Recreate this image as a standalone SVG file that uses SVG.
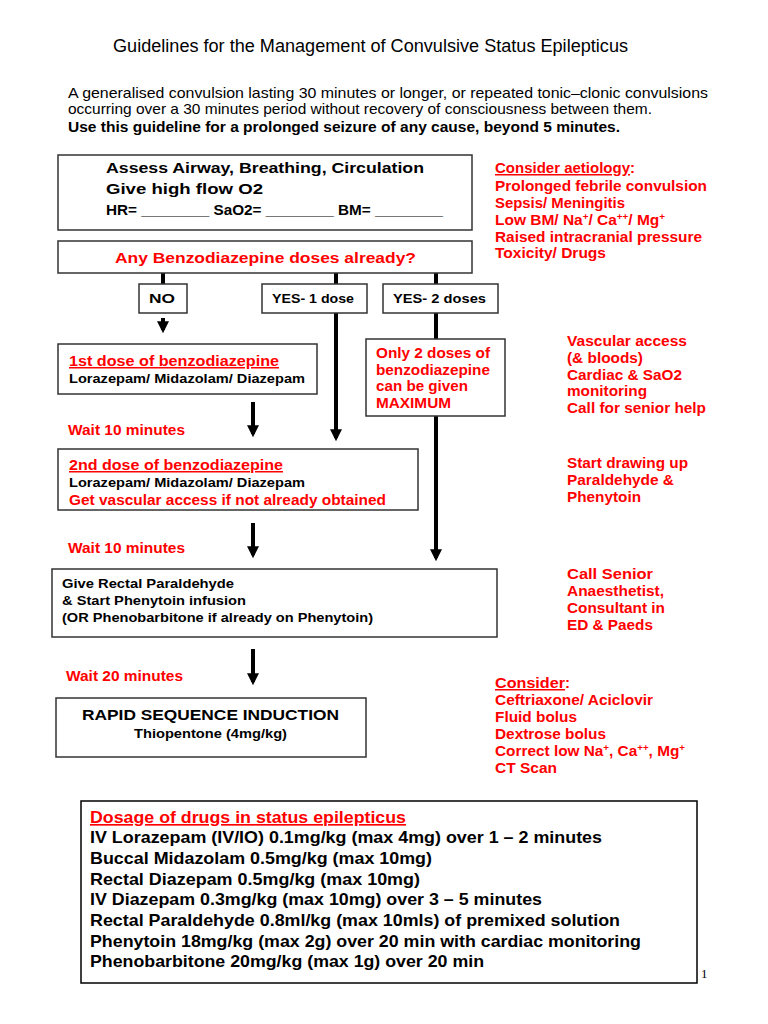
<svg xmlns="http://www.w3.org/2000/svg" width="768" height="1024" viewBox="0 0 768 1024">
<style>
text{font-family:"Liberation Sans",Arial,sans-serif;}
.b{font-weight:bold;}
.r{fill:#ff0000;}
.k{fill:#000;}
.f14{font-size:15px;}
.f12{font-size:13px;}
.f15{font-size:16.5px;}
.u{text-decoration:underline;}
.box{fill:#fff;stroke:#333;stroke-width:1.5;}
.ln{stroke:#000;stroke-width:4;fill:none;}
.sup{font-size:9.5px;}
</style>
<defs>
<marker id="ah" markerWidth="4" markerHeight="4" refX="2.2" refY="2" orient="auto" markerUnits="strokeWidth">
<path d="M0,0.5 L3,2 L0,3.5 Z" fill="#000"/>
</marker>
</defs>
<rect width="768" height="1024" fill="#fff"/>

<g id="header">
<text x="113" y="52" font-size="17.5" textLength="515" lengthAdjust="spacingAndGlyphs">Guidelines for the Management of Convulsive Status Epilepticus</text>
<text x="68" y="98" font-size="15" textLength="640" lengthAdjust="spacingAndGlyphs">A generalised convulsion lasting 30 minutes or longer, or repeated tonic–clonic convulsions</text>
<text x="68" y="114" font-size="15" textLength="584" lengthAdjust="spacingAndGlyphs">occurring over a 30 minutes period without recovery of consciousness between them.</text>
<text x="68" y="132" font-size="15" class="b" textLength="552" lengthAdjust="spacingAndGlyphs">Use this guideline for a prolonged seizure of any cause, beyond 5 minutes.</text>
</g>

<g id="connectors">
<line class="ln" x1="163" y1="273" x2="163" y2="284"/>
<line class="ln" x1="336" y1="273" x2="336" y2="284"/>
<line class="ln" x1="436" y1="273" x2="436" y2="284"/>
<line class="ln" x1="163" y1="318" x2="163" y2="330" marker-end="url(#ah)"/>
<line class="ln" x1="336" y1="313" x2="336" y2="438" marker-end="url(#ah)"/>
<line class="ln" x1="436" y1="313" x2="436" y2="339"/>
<line class="ln" x1="436" y1="416" x2="436" y2="558" marker-end="url(#ah)"/>
<line class="ln" x1="253" y1="402" x2="253" y2="434" marker-end="url(#ah)"/>
<line class="ln" x1="253" y1="523" x2="253" y2="555" marker-end="url(#ah)"/>
<line class="ln" x1="253" y1="649" x2="253" y2="682" marker-end="url(#ah)"/>
</g>

<g id="assess">
<rect class="box" x="58" y="155" width="414" height="75"/>
<text x="106" y="173" class="b f14" textLength="318" lengthAdjust="spacingAndGlyphs">Assess Airway, Breathing, Circulation</text>
<text x="106" y="194" class="b f14" textLength="157" lengthAdjust="spacingAndGlyphs">Give high flow O2</text>
<text x="106" y="215" class="b f14" textLength="337" lengthAdjust="spacingAndGlyphs">HR= ________ SaO2= ________ BM= ________</text>
</g>

<g id="question">
<rect class="box" x="58" y="241" width="414" height="32"/>
<text x="115" y="263" class="b f14 r" textLength="301" lengthAdjust="spacingAndGlyphs">Any Benzodiazepine doses already?</text>
</g>

<g id="no">
<rect class="box" x="139" y="284" width="48" height="29"/>
<text x="149" y="303" class="b f12" textLength="26" lengthAdjust="spacingAndGlyphs">NO</text>
</g>
<g id="yes1">
<rect class="box" x="262" y="284" width="105" height="29"/>
<text x="272" y="303" class="b f12" textLength="82" lengthAdjust="spacingAndGlyphs">YES- 1 dose</text>
</g>
<g id="yes2">
<rect class="box" x="383" y="284" width="115" height="29"/>
<text x="393" y="303" class="b f12" textLength="93" lengthAdjust="spacingAndGlyphs">YES- 2 doses</text>
</g>

<g id="aetiology">
<text x="495" y="173" class="b f14 r"><tspan class="u" textLength="135" lengthAdjust="spacingAndGlyphs">Consider aetiology</tspan>:</text>
<text x="495" y="191" class="b f14 r" textLength="212" lengthAdjust="spacingAndGlyphs">Prolonged febrile convulsion</text>
<text x="495" y="208" class="b f14 r" textLength="130" lengthAdjust="spacingAndGlyphs">Sepsis/ Meningitis</text>
<text x="495" y="225" class="b f14 r" textLength="170" lengthAdjust="spacingAndGlyphs">Low BM/ Na<tspan class="sup" dy="-5">+</tspan><tspan dy="5">/ Ca</tspan><tspan class="sup" dy="-5">++</tspan><tspan dy="5">/ Mg</tspan><tspan class="sup" dy="-5">+</tspan></text>
<text x="495" y="242" class="b f14 r" textLength="207" lengthAdjust="spacingAndGlyphs">Raised intracranial pressure</text>
<text x="495" y="258" class="b f14 r" textLength="111" lengthAdjust="spacingAndGlyphs">Toxicity/ Drugs</text>
</g>

<g id="dose1">
<rect class="box" x="58" y="344" width="259" height="50"/>
<text x="69" y="366" class="b f14 r u" textLength="210" lengthAdjust="spacingAndGlyphs">1st dose of benzodiazepine</text>
<text x="69" y="383" class="b f12" textLength="236" lengthAdjust="spacingAndGlyphs">Lorazepam/ Midazolam/ Diazepam</text>
</g>

<g id="max2">
<rect class="box" x="366" y="339" width="139" height="77"/>
<text x="376" y="358" class="b f14 r" textLength="114" lengthAdjust="spacingAndGlyphs">Only 2 doses of</text>
<text x="376" y="375" class="b f14 r" textLength="114" lengthAdjust="spacingAndGlyphs">benzodiazepine</text>
<text x="376" y="391" class="b f14 r" textLength="92" lengthAdjust="spacingAndGlyphs">can be given</text>
<text x="376" y="408" class="b f14 r" textLength="75" lengthAdjust="spacingAndGlyphs">MAXIMUM</text>
</g>

<g id="vascular">
<text x="567" y="346" class="b f14 r" textLength="120" lengthAdjust="spacingAndGlyphs">Vascular access</text>
<text x="567" y="363" class="b f14 r" textLength="76" lengthAdjust="spacingAndGlyphs">(&amp; bloods)</text>
<text x="567" y="380" class="b f14 r" textLength="115" lengthAdjust="spacingAndGlyphs">Cardiac &amp; SaO2</text>
<text x="567" y="396" class="b f14 r" textLength="80" lengthAdjust="spacingAndGlyphs">monitoring</text>
<text x="567" y="413" class="b f14 r" textLength="139" lengthAdjust="spacingAndGlyphs">Call for senior help</text>
</g>

<text x="68" y="435" class="b f14 r" textLength="117" lengthAdjust="spacingAndGlyphs">Wait 10 minutes</text>

<g id="dose2">
<rect class="box" x="58" y="449" width="360" height="61"/>
<text x="69" y="470" class="b f14 r u" textLength="214" lengthAdjust="spacingAndGlyphs">2nd dose of benzodiazepine</text>
<text x="69" y="487" class="b f12" textLength="236" lengthAdjust="spacingAndGlyphs">Lorazepam/ Midazolam/ Diazepam</text>
<text x="69" y="505" class="b f14 r" textLength="317" lengthAdjust="spacingAndGlyphs">Get vascular access if not already obtained</text>
</g>

<g id="drawing">
<text x="567" y="468" class="b f14 r" textLength="121" lengthAdjust="spacingAndGlyphs">Start drawing up</text>
<text x="567" y="485" class="b f14 r" textLength="107" lengthAdjust="spacingAndGlyphs">Paraldehyde &amp;</text>
<text x="567" y="502" class="b f14 r" textLength="74" lengthAdjust="spacingAndGlyphs">Phenytoin</text>
</g>

<text x="68" y="553" class="b f14 r" textLength="117" lengthAdjust="spacingAndGlyphs">Wait 10 minutes</text>

<g id="rectal">
<rect class="box" x="52" y="569" width="445" height="68"/>
<text x="62" y="588" class="b f12" textLength="172" lengthAdjust="spacingAndGlyphs">Give Rectal Paraldehyde</text>
<text x="62" y="605" class="b f12" textLength="184" lengthAdjust="spacingAndGlyphs">&amp; Start Phenytoin infusion</text>
<text x="62" y="622" class="b f12" textLength="311" lengthAdjust="spacingAndGlyphs">(OR Phenobarbitone if already on Phenytoin)</text>
</g>

<g id="senior">
<text x="567" y="579" class="b f14 r" textLength="86" lengthAdjust="spacingAndGlyphs">Call Senior</text>
<text x="567" y="596" class="b f14 r" textLength="97" lengthAdjust="spacingAndGlyphs">Anaesthetist,</text>
<text x="567" y="613" class="b f14 r" textLength="98" lengthAdjust="spacingAndGlyphs">Consultant in</text>
<text x="567" y="630" class="b f14 r" textLength="86" lengthAdjust="spacingAndGlyphs">ED &amp; Paeds</text>
</g>

<text x="66" y="681" class="b f14 r" textLength="117" lengthAdjust="spacingAndGlyphs">Wait 20 minutes</text>

<g id="rsi">
<rect class="box" x="56" y="698" width="310" height="59"/>
<text x="82" y="720" class="b f14" textLength="257" lengthAdjust="spacingAndGlyphs">RAPID SEQUENCE INDUCTION</text>
<text x="134" y="738" class="b f12" textLength="153" lengthAdjust="spacingAndGlyphs">Thiopentone (4mg/kg)</text>
</g>

<g id="consider">
<text x="495" y="688" class="b f14 r"><tspan class="u" textLength="70" lengthAdjust="spacingAndGlyphs">Consider</tspan>:</text>
<text x="495" y="705" class="b f14 r" textLength="158" lengthAdjust="spacingAndGlyphs">Ceftriaxone/ Aciclovir</text>
<text x="495" y="722" class="b f14 r" textLength="82" lengthAdjust="spacingAndGlyphs">Fluid bolus</text>
<text x="495" y="739" class="b f14 r" textLength="111" lengthAdjust="spacingAndGlyphs">Dextrose bolus</text>
<text x="495" y="756" class="b f14 r" textLength="190" lengthAdjust="spacingAndGlyphs">Correct low Na<tspan class="sup" dy="-5">+</tspan><tspan dy="5">, Ca</tspan><tspan class="sup" dy="-5">++</tspan><tspan dy="5">, Mg</tspan><tspan class="sup" dy="-5">+</tspan></text>
<text x="495" y="773" class="b f14 r" textLength="62" lengthAdjust="spacingAndGlyphs">CT Scan</text>
</g>

<g id="dosage">
<rect x="81" y="801" width="616" height="182" fill="#fff" stroke="#000" stroke-width="1.5"/>
<text x="90" y="823" class="b f15 r u" textLength="316" lengthAdjust="spacingAndGlyphs">Dosage of drugs in status epilepticus</text>
<text x="90" y="843" class="b f15" textLength="512" lengthAdjust="spacingAndGlyphs">IV Lorazepam (IV/IO) 0.1mg/kg (max 4mg) over 1 – 2 minutes</text>
<text x="90" y="864" class="b f15" textLength="342" lengthAdjust="spacingAndGlyphs">Buccal Midazolam 0.5mg/kg (max 10mg)</text>
<text x="90" y="885" class="b f15" textLength="330" lengthAdjust="spacingAndGlyphs">Rectal Diazepam 0.5mg/kg (max 10mg)</text>
<text x="90" y="905" class="b f15" textLength="452" lengthAdjust="spacingAndGlyphs">IV Diazepam 0.3mg/kg (max 10mg) over 3 – 5 minutes</text>
<text x="90" y="926" class="b f15" textLength="530" lengthAdjust="spacingAndGlyphs">Rectal Paraldehyde 0.8ml/kg (max 10mls) of premixed solution</text>
<text x="90" y="947" class="b f15" textLength="551" lengthAdjust="spacingAndGlyphs">Phenytoin 18mg/kg (max 2g) over 20 min with cardiac monitoring</text>
<text x="90" y="967" class="b f15" textLength="394" lengthAdjust="spacingAndGlyphs">Phenobarbitone 20mg/kg (max 1g) over 20 min</text>
</g>

<text x="701" y="978" font-size="13" style="font-family:'Liberation Serif',serif">1</text>
</svg>
